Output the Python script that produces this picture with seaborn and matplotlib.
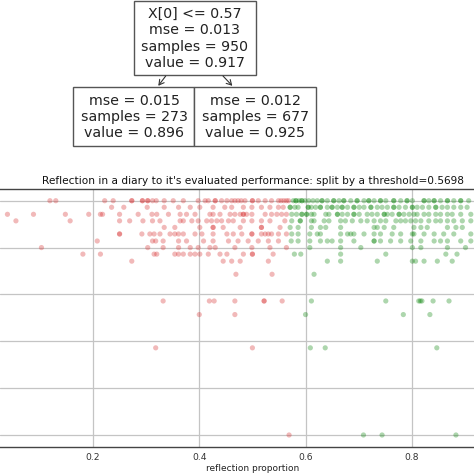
import numpy as np
import pandas as pd
import matplotlib
matplotlib.use("Agg")
import matplotlib.pyplot as plt
from matplotlib.patches import Rectangle
import seaborn as sns

# decision tree nodes (text only)
root_lines = ["X[0] <= 0.57", "mse = 0.013", "samples = 950", "value = 0.917"]
left_lines = ["mse = 0.015", "samples = 273", "value = 0.896"]
right_lines = ["mse = 0.012", "samples = 677", "value = 0.925"]

threshold = 0.5698
title = "Reflection in a diary to it's evaluated performance: split by a threshold=0.5698"

# performance levels (one per visible row of points)
performance_rows = [1.000, 0.986, 0.971, 0.957, 0.943, 0.929, 0.914, 0.900,
                    0.886, 0.871, 0.843, 0.786, 0.757, 0.686, 0.500]

# reflection proportion of the points on each row (repeats = overlapping dots)
reflection_by_row = [
    [0.119, 0.130, 0.222, 0.238, 0.273, 0.273, 0.293, 0.293, 0.303, 0.303, 0.312, 0.319,
     0.334, 0.351, 0.370, 0.398, 0.411, 0.417, 0.430, 0.430, 0.442, 0.452, 0.461, 0.467,
     0.473, 0.479, 0.486, 0.500, 0.500, 0.511, 0.524, 0.536, 0.549, 0.554, 0.559, 0.564,
     0.568, 0.577, 0.582, 0.588, 0.593, 0.599, 0.606, 0.614, 0.622, 0.631, 0.641, 0.653,
     0.663, 0.672, 0.685, 0.697, 0.710, 0.719, 0.729, 0.741, 0.751, 0.766, 0.779, 0.791,
     0.801, 0.823, 0.832, 0.842, 0.854, 0.867, 0.879, 0.892, 0.907, 0.582, 0.593, 0.631,
     0.653, 0.672, 0.697, 0.719, 0.741, 0.766, 0.791, 0.823, 0.842, 0.867, 0.892],
    [0.235, 0.258, 0.302, 0.334, 0.361, 0.383, 0.401, 0.426, 0.448, 0.461, 0.483, 0.499,
     0.517, 0.533, 0.549, 0.558, 0.571, 0.571, 0.580, 0.586, 0.605, 0.611, 0.619, 0.628,
     0.641, 0.650, 0.660, 0.669, 0.679, 0.691, 0.701, 0.710, 0.723, 0.735, 0.744, 0.754,
     0.766, 0.776, 0.788, 0.801, 0.810, 0.820, 0.832, 0.845, 0.857, 0.867, 0.879, 0.892,
     0.904, 0.605, 0.628, 0.650, 0.669, 0.691, 0.723, 0.766, 0.801, 0.845],
    [0.039, 0.088, 0.148, 0.192, 0.214, 0.218, 0.250, 0.285, 0.311, 0.320, 0.342, 0.364,
     0.376, 0.392, 0.420, 0.426, 0.439, 0.458, 0.467, 0.477, 0.483, 0.483, 0.489, 0.499,
     0.524, 0.536, 0.546, 0.555, 0.564, 0.574, 0.583, 0.593, 0.602, 0.611, 0.616, 0.638,
     0.644, 0.660, 0.669, 0.679, 0.691, 0.701, 0.716, 0.725, 0.735, 0.748, 0.754, 0.763,
     0.776, 0.785, 0.795, 0.804, 0.810, 0.823, 0.832, 0.845, 0.854, 0.867, 0.876, 0.892,
     0.911, 0.593, 0.602, 0.660, 0.691, 0.748, 0.776],
    [0.055, 0.157, 0.250, 0.269, 0.294, 0.312, 0.326, 0.364, 0.370, 0.386, 0.398, 0.414,
     0.423, 0.433, 0.442, 0.455, 0.464, 0.483, 0.499, 0.517, 0.533, 0.561, 0.574, 0.590,
     0.590, 0.611, 0.616, 0.635, 0.644, 0.666, 0.675, 0.688, 0.704, 0.716, 0.729, 0.741,
     0.751, 0.770, 0.779, 0.788, 0.798, 0.807, 0.817, 0.832, 0.845, 0.854, 0.867, 0.879,
     0.895, 0.911],
    [0.334, 0.354, 0.401, 0.426, 0.426, 0.445, 0.477, 0.517, 0.517, 0.552, 0.571, 0.586,
     0.611, 0.628, 0.638, 0.666, 0.729, 0.735, 0.748, 0.766, 0.804, 0.817, 0.829, 0.867,
     0.883, 0.895],
    [0.250, 0.250, 0.292, 0.307, 0.315, 0.326, 0.345, 0.354, 0.361, 0.370, 0.392, 0.405,
     0.426, 0.452, 0.464, 0.480, 0.499, 0.499, 0.517, 0.524, 0.530, 0.536, 0.549, 0.564,
     0.574, 0.586, 0.608, 0.622, 0.628, 0.666, 0.679, 0.685, 0.691, 0.710, 0.729, 0.741,
     0.763, 0.779, 0.801, 0.804, 0.823, 0.842, 0.860, 0.879, 0.911],
    [0.208, 0.312, 0.318, 0.332, 0.361, 0.376, 0.408, 0.426, 0.455, 0.473, 0.492, 0.511,
     0.530, 0.549, 0.573, 0.586, 0.608, 0.628, 0.641, 0.650, 0.666, 0.691, 0.729, 0.729,
     0.741, 0.760, 0.779, 0.798, 0.817, 0.842, 0.854, 0.867, 0.892, 0.911],
    [0.103, 0.303, 0.332, 0.361, 0.383, 0.398, 0.420, 0.430, 0.467, 0.499, 0.533, 0.564,
     0.608, 0.666, 0.704, 0.801, 0.817, 0.867, 0.901],
    [0.181, 0.214, 0.315, 0.320, 0.354, 0.361, 0.370, 0.383, 0.392, 0.401, 0.417, 0.439,
     0.452, 0.483, 0.500, 0.500, 0.539, 0.579, 0.591, 0.666, 0.751, 0.864, 0.885],
    [0.273, 0.445, 0.461, 0.477, 0.530, 0.641, 0.666, 0.735, 0.801, 0.807, 0.823, 0.848,
     0.876],
    [0.469, 0.537, 0.616],
    [0.332, 0.419, 0.428, 0.467, 0.522, 0.522, 0.556, 0.611, 0.751, 0.813, 0.816, 0.819,
     0.840, 0.870],
    [0.400, 0.467, 0.600, 0.784, 0.834],
    [0.318, 0.500, 0.609, 0.637, 0.847],
    [0.569, 0.709, 0.744, 0.883],
]

rows = []
for perf, xs in zip(performance_rows, reflection_by_row):
    for x in xs:
        rows.append({"reflection": x, "performance": perf})
df = pd.DataFrame(rows)
df["side"] = np.where(df["reflection"] <= threshold, "low", "high")

sns.set_style("white")
plt.rcParams["font.family"] = ["DejaVu Sans"]

fig = plt.figure(figsize=(4.74, 4.74), dpi=100)

# --- tree diagram, drawn in pixel coordinates ---
tax = fig.add_axes([0, 0, 1, 1])
tax.set_xlim(0, 474)
tax.set_ylim(474, 0)
tax.axis("off")

box_kw = dict(facecolor="white", edgecolor="#555555", linewidth=1.0)
tax.add_patch(Rectangle((134, 0.7), 122, 74.3, **box_kw))
tax.add_patch(Rectangle((73.3, 87.3), 121, 58.4, **box_kw))
tax.add_patch(Rectangle((194.3, 87.3), 122, 58.4, **box_kw))

tree_font = dict(fontsize=10.2, ha="center", va="baseline", color="#222222")
for i, line in enumerate(root_lines):
    tax.text(195, 18.3 + 16.1 * i, line, **tree_font)
for i, line in enumerate(left_lines):
    tax.text(134.3, 105 + 16.2 * i, line, **tree_font)
for i, line in enumerate(right_lines):
    tax.text(255.3, 105 + 16.2 * i, line, **tree_font)

arrow_kw = dict(arrowstyle="->,head_length=0.35,head_width=0.2", color="#333333", lw=0.8,
                shrinkA=0, shrinkB=0)
tax.annotate("", xy=(158.3, 85.8), xytext=(165.7, 76), arrowprops=arrow_kw)
tax.annotate("", xy=(232.3, 85.8), xytext=(223, 76), arrowprops=arrow_kw)

# --- scatter of reflection vs performance ---
ax = fig.add_axes([0, 1 - 446.7 / 474, 1, (446.7 - 189) / 474])
sns.scatterplot(data=df, x="reflection", y="performance", hue="side",
                palette={"low": "tab:red", "high": "green"},
                s=14, alpha=0.32, linewidth=0, legend=False, ax=ax)

ax.set_xlim(0.025, 0.917)
ax.set_ylim(0.475, 1.025)
ax.set_xticks([0.2, 0.4, 0.6, 0.8])
ax.set_yticks(np.arange(0.5, 1.01, 0.1))
ax.set_yticklabels([])
ax.tick_params(axis="y", length=0)
ax.tick_params(axis="x", labelsize=6.6, length=2, pad=2.5, colors="#333333")
ax.grid(True, color="#c4c4c4", linewidth=0.9)
ax.set_axisbelow(True)
for side in ["left", "right"]:
    ax.spines[side].set_visible(False)
for side in ["top", "bottom"]:
    ax.spines[side].set_color("#444444")
    ax.spines[side].set_linewidth(1.0)

ax.set_xlabel("reflection proportion", fontsize=6.5, color="#222222")
ax.xaxis.set_label_coords(0.533, -0.066)
ax.set_ylabel("")
ax.text(0.533, 1.012, title, transform=ax.transAxes, ha="center", va="bottom",
        fontsize=7.6, color="#111111")

fig.savefig("out.png", dpi=100)
